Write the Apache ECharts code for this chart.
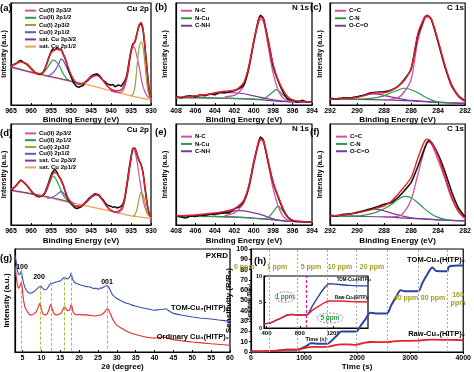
<!DOCTYPE html>
<html><head><meta charset="utf-8">
<script src="https://cdn.jsdelivr.net/npm/echarts@6/dist/echarts.min.js"></script>
<style>html,body{margin:0;padding:0;background:#fff}#c{width:474px;height:372px}</style>
</head><body><div id="c"></div>
<script>
// ---------- Panel (a) Cu 2p, TOM ----------
const a_bg = [[965,37],[958,30],[951,24],[945,19],[938,12],[935,9],[932,6.5],[930,5.5]];
const a_sat12 = [[965,37.5],[964,39.5],[963,41.5],[962.5,42],[962,41.5],[961,39],[960,35],[959,32],[958,30.5],[957,29.5]];
const a_sat32 = [[965,37.4],[958,30.4],[951,24.4],[949,22],[948,21.2],[947,21.5],[946,23],[945,26.5],[944,28.5],[943.5,29],[943,28],[942,24],[941,19],[940,15],[939,13],[938,12]];
const a_cu2_32 = [[940,13.5],[938,12],[937,14],[936,26],[935,50],[934.5,57],[934,55],[933,38],[932,18],[931,9],[930,6]];
const a_cu1_32 = [[935,9],[934.5,10.5],[934,18],[933.5,38],[933,55],[932.5,62],[932,57],[931.5,40],[931,20],[930.5,9.5],[930,6]];
const a_cu2_12 = [[959,31.5],[958,31],[957,31.5],[956,36],[955,42],[954.5,44],[954,43.5],[953,39],[952,31],[951,25.5],[950,23.5]];
const a_cu1_12 = [[956,28.5],[955,30],[954,34],[953,41],[952.5,45],[952,44],[951,36],[950,28],[949,23],[948,21.5]];
const a_data = [[965,38],[964.5,39],[964,40.5],[963.5,41],[963,43],[962.5,43.5],[962,42],[961.5,41],[961,40],[960,36],[959,32],[958.5,31],[958,30],[957.5,30.5],[957,32],[956.5,36],[956,41],[955.5,47],[955,52],[954.5,55],[954,54],[953.5,56],[953,54],[952.5,55],[952,50],[951.5,46],[951,40],[950.5,33],[950,28],[949.5,23],[949,20],[948.5,18],[948,17.5],[947.5,18.5],[947,19],[946.5,22],[946,24],[945.5,26],[945,28],[944.5,29.5],[944,30],[943.5,30.5],[943,29],[942.5,27],[942,24],[941.5,23],[941,21],[940.5,20],[940,19.5],[939.5,20],[939,18],[938.5,19],[938,19.5],[937.5,18.5],[937,21],[936.5,24],[936,30],[935.5,42],[935,53],[934.5,60],[934,62],[933.5,70],[933,78],[932.5,80],[932,74],[931.5,56],[931,35],[930.5,16],[930,7]];
const a_fit = [[965,38],[964,40],[963,42],[962,42],[961,40],[960,36],[959,32],[958,30.5],[957,32],[956,41],[955,51],[954,54],[953,55],[952.5,54],[952,51],[951,40],[950,30],[949,23],[948,20],[947,21],[946,24],[945,27.5],[944,29],[943,28],[942,24],[941,19],[940,15.5],[939,14],[938,14],[937,17],[936,29],[935,53],[934,63],[933.5,70],[933,78],[932.5,81],[932,75],[931.5,57],[931,36],[930.5,16],[930,7]];

// ---------- Panel (d) Cu 2p, ordinary ----------
const d_bg = [[965,34],[958,29],[951,23],[945,18],[938,12],[935,9],[932,7.5],[930,6.5]];
const d_sat12 = [[965,35],[964,38],[963,42],[962.5,44],[962,43],[961,39],[960,34],[959,30],[958,28.5],[957,28]];
const d_sat32 = [[965,34.5],[958,29.5],[951,23.5],[949,19],[948,18.5],[947,19.5],[946,23],[945,27],[944,29.5],[943.5,30],[943,29],[942,24],[941,18],[940,14],[939,12.5],[938,12]];
const d_cu2_32 = [[939,12.5],[938,12.8],[937,17],[936,38],[935,64],[934.5,74.5],[934,72],[933.5,63],[933,50],[932.5,37],[932,25],[931,12],[930,7.5]];
const d_cu1_32 = [[934.5,8.8],[934,10],[933.5,16],[933,25],[932.5,32],[932,30],[931.5,22],[931,13],[930.5,9],[930,7]];
const d_cu2_12 = [[959,29.5],[958,28.5],[957,29],[956,35],[955,45],[954.5,48],[954,47],[953,39],[952,30],[951,24.5],[950,22]];
const d_cu1_12 = [[956,26.5],[955,27],[954,29],[953,32],[952.5,33],[952,32],[951,27],[950,23],[949,21]];
const d_data = [[965,34],[964.5,36],[964,38],[963.5,40],[963,42.5],[962.5,44.5],[962,43],[961.5,41],[961,39],[960.5,36.5],[960,34],[959.5,31.5],[959,30],[958.5,28.5],[958,28],[957.5,28.5],[957,29.5],[956.5,32],[956,37],[955.5,43],[955,49],[954.5,53],[954,55],[953.5,52],[953,48],[952.5,45],[952,40],[951.5,34],[951,28],[950.5,24],[950,21],[949.5,19],[949,17],[948.5,16.5],[948,17],[947.5,18],[947,20],[946.5,22],[946,24],[945.5,26.5],[945,28],[944.5,29.5],[944,31],[943.5,30.5],[943,29.5],[942.5,27],[942,25],[941.5,22],[941,20],[940.5,19],[940,18.5],[939.5,17.5],[939,18],[938.5,17],[938,17.5],[937.5,18.5],[937,21],[936.5,28],[936,41],[935.5,55],[935,67],[934.5,76],[934,76],[933.5,70],[933,64],[932.5,60],[932,52],[931.5,37],[931,22],[930.5,12],[930,8]];
const d_fit = [[965,35],[964,38],[963,42],[962.5,44],[962,43],[961,39.5],[960,34],[959,30],[958,28.5],[957,29.5],[956,37],[955,47],[954.5,51],[954,52],[953,48],[952,40],[951,29],[950,22],[949,19],[948,18.5],[947,20],[946,23.5],[945,27.5],[944,30],[943.5,30],[943,29],[942,24],[941,18],[940,14.5],[939,13],[938,14],[937,19],[936,41],[935,66],[934.5,76],[934,75],[933.5,70],[933,64],[932.5,60],[932,51],[931.5,36],[931,22],[930.5,12.5],[930,8]];

// ---------- Panel (b) N 1s, TOM ----------
const b_bg = [[408,7.5],[404,6.8],[401,6],[399,5],[398,4],[396,3],[394,2.5]];
const b_cnh = [[408,7.5],[406.5,8],[405,9.5],[404,11],[403,12.2],[402,12],[401,11],[400,9],[399,7],[398,5],[397,3.8],[396,3],[394,2.5]];
const b_ncu = [[408,7],[404,6.8],[401,6.3],[399.5,5.5],[399,6],[398.5,9],[398,13],[397.7,15],[397.5,14.5],[397,10],[396.5,6],[396,4],[395,3.2],[394,2.5]];
const b_nc = [[403,8],[402,9.5],[401.5,12.5],[401,19],[400.5,35],[400,60],[399.5,81],[399.3,84],[399,82],[398.5,57],[398,31],[397.5,15],[397,7],[396.5,4.5],[396,3.5]];
const b_fit = [[408,7.5],[407,8],[406,9],[405,10],[404,12],[403,13.5],[402,14.5],[401.5,17],[401,22.5],[400.5,38],[400,62],[399.5,83],[399.3,86],[399,84],[398.5,62],[398,40],[397.7,30],[397.5,25],[397,15],[396.5,8],[396,5],[395,3.5],[394,2.7]];
const b_data = [[408,8],[407.5,7],[407,8.5],[406.5,9],[406,8],[405.5,10],[405,9],[404.5,11],[404,10],[403.5,12.5],[403,12],[402.5,13],[402,14],[401.5,16],[401,20],[400.5,37],[400,62],[399.5,84],[399.3,88],[399,85],[398.5,63],[398,38],[397.5,24],[397,13],[396.5,6],[396,5],[395.5,3],[395,4.5],[394.5,3],[394,3.5]];

// ---------- Panel (e) N 1s, ordinary ----------
const e_bg = [[408,9],[404,8.5],[401,7.5],[399,6],[398,5],[396,3.5],[394,2.7]];
const e_cnh = [[408,9],[406,9.5],[404,11.5],[403,13],[402,14],[401.5,14.2],[401,14],[400,12],[399,9.5],[398,6],[397,4],[396,3.5],[394,2.7]];
const e_ncu = [[408,8.8],[404,8.3],[401,7.3],[399,6],[398.5,7.5],[398,13],[397.5,18.5],[397,14],[396.5,7.5],[396,4.5],[395,3.2],[394,2.7]];
const e_nc = [[403,9],[402,12],[401.5,15.8],[401,22],[400.5,36],[400,59],[399.5,80],[399.3,84],[399,82],[398.5,60],[398,36],[397.5,19],[397,9],[396.5,5],[396,3.8]];
const e_fit = [[408,9],[407,9.5],[406,10],[405,11],[404,12],[403,13.5],[402,16],[401.5,19.5],[401,25],[400.5,39],[400,62],[399.5,82],[399.3,85],[399,83.5],[398.5,63],[398,42],[397.5,29],[397,17],[396.5,8],[396,4.8],[395,3.3],[394,2.8]];
const e_data = [[408,9],[407.5,8],[407,7],[406.5,9],[406,8.5],[405.5,10],[405,9.5],[404.5,11],[404,10.5],[403.5,11.5],[403,12],[402.5,12],[402,16],[401.5,18],[401,24],[400.5,38],[400,62],[399.5,82],[399.3,87],[399,84],[398.5,62],[398,42],[397.5,28],[397,16],[396.5,8],[396,4.5],[395.5,3.5],[395,3.5],[394.5,3],[394,3]];

// ---------- Panel (c) C 1s, TOM ----------
const c_bg = [[292,6],[290,5.5],[288,5],[286,4],[284,2.5],[282,1.5]];
const c_oco = [[292,6],[291,6.5],[290,8],[289.5,9.5],[289,10.8],[288.7,11],[288.3,10.5],[288,9.5],[287.5,8],[287,6.5],[286.5,5.5],[286,4.5],[285,3.5],[284,2.6],[282,1.6]];
const c_cn = [[292,6.1],[290,5.7],[289,6.5],[288,9],[287.5,12],[287,14.5],[286.5,16.4],[286,15],[285.5,12],[285,8],[284.5,5],[284,3],[283,2.2]];
const c_cc = [[288,5],[287,7],[286.5,13],[286,25],[285.5,63],[285,84],[284.8,86.5],[284.5,83],[284,61],[283.5,37],[283,18.5],[282.5,8],[282,3]];
const c_fit = [[292,6],[291,6.5],[290,7.5],[289.5,9],[289,11],[288.5,12],[288,12],[287.5,14],[287,18],[286.5,24],[286,36],[285.5,70],[285,86],[284.8,87.5],[284.5,84],[284,63],[283.5,39],[283,20],[282.5,9],[282,4]];
const c_data = [[292,6.5],[291.5,6],[291,7],[290.5,7],[290,8],[289.5,9.5],[289,12],[288.5,12.5],[288,13],[287.5,14.5],[287,18],[286.5,25],[286,35],[285.5,68],[285,86],[284.8,88],[284.5,84],[284,62],[283.5,38],[283,19],[282.5,9],[282,4]];

// ---------- Panel (f) C 1s, ordinary ----------
const f_bg = [[292,9],[290,8.5],[288,8],[286,6.5],[284,5],[282,4]];
const f_oco = [[292,9],[291,10],[290,12],[289.5,14],[289,15.5],[288.7,15.8],[288.3,15.3],[288,14],[287.5,12],[287,10],[286.5,8.5],[286,7.2],[285,6],[284,5.1],[282,4.1]];
const f_cn = [[292,9.1],[290,9],[289,11],[288.5,13],[288,16],[287.5,20],[287,25],[286.5,28.4],[286,27],[285.5,22],[285,16],[284.5,11],[284,7.5],[283.5,5.5],[283,4.7]];
const f_cc = [[288,8],[287,8.5],[286.5,13],[286,25],[285.5,50],[285,75],[284.8,82],[284.5,80],[284,64],[283.5,46],[283,26],[282.5,13],[282,6]];
const f_fit = [[292,9],[291,10],[290,12],[289,15],[288.5,17],[288,19],[287.5,23],[287,30],[286.5,38],[286,47],[285.5,66],[285,83],[284.8,85],[284.5,82],[284,68],[283.5,48],[283,28],[282.5,14],[282,7]];
const f_data = [[292,9.5],[291.5,9],[291,10.5],[290.5,11],[290,12.5],[289.5,14],[289,16],[288.5,18],[288,20.5],[287.5,22],[287,27],[286.5,34],[286,42],[285.5,58],[285,76],[284.7,83.5],[284.5,82],[284,70],[283.5,53],[283,33],[282.5,17],[282,8]];

// ---------- Panel (g) PXRD ----------
const g_ticks = [5,10,15,20,25,30,35,40,45,50,55,60];
const g_peaks = [4.7,9.6,12.5,16.1,17.9,27.5];
const g_tom = [[3,94],[3.3,88],[3.6,80],[3.9,76],[4.2,75],[4.5,77],[4.7,79],[4.9,74],[5.2,68],[5.6,63],[6,60],[6.5,58],[7,57],[7.5,57.5],[8,58.5],[8.5,60],[9,62],[9.5,63.5],[9.8,64],[10.2,62.5],[10.8,60.5],[11.3,60.5],[11.8,63],[12.3,66],[12.6,67],[13,66.5],[13.5,67.5],[14,68],[14.5,68.5],[15,69],[15.5,70.5],[16,72.5],[16.3,72],[16.8,71],[17.3,72],[17.7,74],[17.9,77],[18.1,73],[18.5,69],[19,67],[19.5,66.5],[20,65.5],[21,64.5],[22,63.5],[23,63],[24,61.5],[24.5,62],[25,61],[25.5,62],[26,62],[26.5,63],[27,64],[27.5,64.5],[28,62],[28.5,58],[29,55],[30,52],[31,50],[32,48],[33,47],[34,45.5],[35,44.5],[36,43.5],[38,42],[40,40.5],[41,41],[42,41.5],[43,42],[44,39.5],[45,37.5],[47,36],[50,34],[52,33],[55,32],[57,31],[60,30]];
const g_ord = [[3,84],[3.3,74],[3.6,66],[3.9,62],[4.2,63],[4.5,66],[4.7,68],[4.9,63],[5.2,52],[5.6,44],[6,41],[6.5,38],[7,36],[7.5,36],[8,37],[8.5,38.5],[9,42],[9.4,46],[9.6,47],[9.9,43],[10.4,37],[11,36],[11.5,37],[12,41],[12.4,46],[12.7,44],[13.2,38],[13.8,36],[14.5,36.5],[15.2,37.5],[15.8,42],[16.1,44],[16.5,42],[17,40],[17.5,41],[17.8,45],[18,46],[18.3,40],[18.8,37],[19.5,36],[20,36.5],[21,36],[22,36],[23,35.5],[24,35],[25,35.5],[26,36.5],[26.8,39],[27.4,42],[27.8,41],[28.3,37],[29,31],[30,26],[31,23.5],[32,21.5],[33,19.5],[35,17],[37,15],[40,13.5],[42,14.6],[43,14],[45,12],[48,10.5],[50,9.7],[55,8],[60,6.5]];

// ---------- Panel (h) sensing ----------
const h_switch = [350,880,1440,1980,2560,3150,3700];
const h_tom = [[0,0.5],[200,0.6],[350,0.8],[450,1.0],[550,1.5],[650,2.2],[700,2.3],[800,2.2],[880,2.2],[950,3.5],[1050,6],[1130,8.5],[1200,8.3],[1300,8.1],[1440,8],[1520,11],[1620,16],[1700,20],[1800,19.8],[1980,19.8],[2060,25],[2160,32],[2250,38],[2350,37.5],[2560,37.5],[2640,45],[2740,54],[2820,60],[2900,59],[3150,59],[3230,67],[3330,76],[3420,82],[3480,79],[3550,78.5],[3700,78.5],[3720,82],[3760,83.5],[3900,84],[4000,84]];
const h_raw = [[0,0.5],[200,0.6],[350,0.8],[450,1.0],[550,1.5],[650,2.2],[880,2.3],[950,3.2],[1050,4.3],[1150,5],[1300,5],[1440,5],[1550,6.3],[1700,7.5],[1850,7.3],[1980,7],[2100,8.5],[2250,9.7],[2560,9.5],[2680,10.3],[2820,10.8],[3150,11],[3300,11.7],[3420,12],[3700,11.8],[3800,11.7],[4000,11.6]];
const in_ticks = [400,800,1200];
const in_switch = [880];
const in_tom = [[370,0.8],[450,1.0],[520,1.5],[600,2.1],[650,2.5],[700,2.6],[800,2.5],[880,2.5],[950,4.2],[1020,6.0],[1100,7.8],[1160,8.5],[1250,8.4],[1400,8.2],[1620,8.1]];
const in_raw = [[370,0.8],[450,1.0],[520,1.5],[600,2.1],[650,2.5],[700,2.6],[800,2.5],[880,2.5],[950,3.4],[1050,4.4],[1150,5.2],[1250,5.2],[1400,5.1],[1620,5.0]];

// ---------- styling ----------
const FF = '"Liberation Sans", Arial, sans-serif';
const C = {pink:'#d24fa6', green:'#2f9a45', olive:'#9da33a', violet:'#6a55cc', purple:'#7a3a9c', orange:'#f2a24e', red:'#e8212a', black:'#111', blue:'#2d43a0'};
const cuNames = ['Cu(II) 2p3/2','Cu(II) 2p1/2','Cu(I) 2p3/2','Cu(I) 2p1/2','sat. Cu 2p3/2','sat. Cu 2p1/2'];
const nNames = ['N-C','N-Cu','C-NH'];
const cNames = ['C=C','C-N','O-C=O'];
const plain = v => String(v);

function ln(name, data, gi, color, w, z, smooth, extra) {
  return Object.assign({type:'line', name, data, xAxisIndex:gi, yAxisIndex:gi, smooth:smooth, symbol:'none',
    lineStyle:{color, width:w}, itemStyle:{color}, z, silent:true}, extra||{});
}
const grids = [
  {left:11, top:3, width:140, height:102},
  {left:176, top:3, width:136, height:102},
  {left:330, top:3, width:137, height:102},
  {left:11, top:124, width:140, height:101},
  {left:176, top:124, width:136, height:101},
  {left:330, top:124, width:137, height:101},
  {left:15, top:249, width:215, height:103},
  {left:251, top:249, width:215, height:103},
  {left:264, top:276, width:104, height:52}
].map(g => Object.assign({show:true, borderColor:'#000', borderWidth:1.2, backgroundColor:'transparent'}, g));

const lab = {fontSize:7, fontWeight:'bold', color:'#000', fontFamily:FF, formatter:plain};
const nameTS = (s) => ({fontSize:s, fontWeight:'bold', color:'#000', fontFamily:FF});
function xpsX(gi, min, max, iv, gap) {
  return {gridIndex:gi, type:'value', min, max, interval:iv, inverse:true,
    axisLine:{show:true, lineStyle:{color:'#000', width:1.2}}, axisTick:{inside:true, length:2, lineStyle:{color:'#000'}},
    axisLabel:Object.assign({margin:3}, lab), splitLine:{show:false},
    name:'Binding Energy (eV)', nameLocation:'middle', nameGap:gap, nameTextStyle:nameTS(8)};
}
function xpsY(gi, gap) {
  return {gridIndex:gi, type:'value', min:0, max:100, axisLabel:{show:false}, axisTick:{show:false}, splitLine:{show:false},
    axisLine:{show:true, lineStyle:{color:'#000', width:1.2}},
    name:'Intensity (a.u.)', nameLocation:'middle', nameGap:gap, nameTextStyle:nameTS(7)};
}
const xAxis = [
  xpsX(0,930,965,5,11), xpsX(1,394,408,2,11), xpsX(2,282,292,2,11),
  xpsX(3,930,965,5,12), xpsX(4,394,408,2,12), xpsX(5,282,292,2,12),
  {gridIndex:6, type:'value', min:3, max:60, axisLine:{lineStyle:{color:'#000', width:1.2}},
    axisTick:{inside:true, length:2, customValues:g_ticks, lineStyle:{color:'#000'}},
    axisLabel:Object.assign({margin:3, customValues:g_ticks}, lab), splitLine:{show:false},
    name:'2θ (degree)', nameLocation:'middle', nameGap:10, nameTextStyle:nameTS(8)},
  {gridIndex:7, type:'value', min:0, max:4000, interval:1000, axisLine:{lineStyle:{color:'#000', width:1.2}},
    axisTick:{length:2, lineStyle:{color:'#000'}}, axisLabel:Object.assign({margin:3}, lab), splitLine:{show:false},
    name:'Time (s)', nameLocation:'middle', nameGap:10, nameTextStyle:nameTS(8)},
  {gridIndex:8, type:'value', min:370, max:1620, axisLine:{lineStyle:{color:'#000', width:1}},
    axisTick:{inside:true, length:2, customValues:in_ticks, lineStyle:{color:'#000'}},
    axisLabel:{margin:2, customValues:in_ticks, formatter:plain, fontSize:6, fontWeight:'bold', color:'#000', fontFamily:FF}, splitLine:{show:false},
    name:'Time (s)', nameLocation:'middle', nameGap:7, nameTextStyle:nameTS(5.5)}
];
const yAxis = [
  xpsY(0,3), xpsY(1,7), xpsY(2,6), xpsY(3,3), xpsY(4,7), xpsY(5,6),
  {gridIndex:6, type:'value', min:0, max:100, axisLabel:{show:false}, axisTick:{show:false}, splitLine:{show:false},
    axisLine:{show:true, lineStyle:{color:'#000', width:1.2}},
    name:'Intensity (a.u.)', nameLocation:'middle', nameGap:4, nameTextStyle:nameTS(8)},
  {gridIndex:7, type:'value', min:0, max:100, interval:10, axisLine:{show:true, lineStyle:{color:'#000', width:1.2}},
    axisTick:{length:2, lineStyle:{color:'#000'}}, axisLabel:Object.assign({margin:3}, lab), splitLine:{show:false},
    name:'Sensitivity (R/R₀)', nameLocation:'middle', nameGap:11, nameTextStyle:nameTS(8)},
  {gridIndex:8, type:'value', min:0, max:10, interval:5, axisLine:{show:true, lineStyle:{color:'#000', width:1}},
    axisTick:{inside:true, length:2, lineStyle:{color:'#000'}}, axisLabel:{margin:2, fontSize:5.5, fontWeight:'bold', color:'#000', fontFamily:FF}, splitLine:{show:false},
    name:'Sensitivity (R/R₀)', nameLocation:'middle', nameGap:8, nameTextStyle:nameTS(4.5)}
];

function cuSeries(gi, bg, c232, c212, c132, c112, s32, s12, data, fit) {
  return [
    ln('bg', bg, gi, C.orange, 1.3, 2, 0.2),
    ln(cuNames[5], s12, gi, C.orange, 1.3, 3, 0.35),
    ln(cuNames[4], s32, gi, C.purple, 1.2, 3, 0.35),
    ln(cuNames[1], c212, gi, C.green, 1.2, 3, 0.35),
    ln(cuNames[3], c112, gi, C.violet, 1.2, 3, 0.35),
    ln(cuNames[0], c232, gi, C.pink, 1.2, 3, 0.35),
    ln(cuNames[2], c132, gi, C.olive, 1.2, 3, 0.35),
    ln('data', data, gi, C.black, 1.6, 4, 0.15),
    ln('fit', fit, gi, C.red, 1.4, 5, 0.35)
  ];
}
function threeSeries(gi, names, bg, p1, p2, p3, data, fit) {
  return [
    ln('bg', bg, gi, C.purple, 1.2, 2, 0.2),
    ln(names[2], p3, gi, C.purple, 1.2, 3, 0.35),
    ln(names[1], p2, gi, C.green, 1.2, 3, 0.35),
    ln(names[0], p1, gi, C.pink, 1.3, 3, 0.35),
    ln('data', data, gi, C.black, 1.6, 4, 0.15),
    ln('fit', fit, gi, C.red, 1.4, 5, 0.35)
  ];
}
function nearestY(arr, x) {
  let best = arr[0];
  arr.forEach(p => { if (Math.abs(p[0]-x) < Math.abs(best[0]-x)) best = p; });
  return best[1];
}
const series = [].concat(
  cuSeries(0, a_bg, a_cu2_32, a_cu2_12, a_cu1_32, a_cu1_12, a_sat32, a_sat12, a_data, a_fit),
  threeSeries(1, nNames, b_bg, b_nc, b_ncu, b_cnh, b_data, b_fit),
  threeSeries(2, cNames, c_bg, c_cc, c_cn, c_oco, c_data, c_fit),
  cuSeries(3, d_bg, d_cu2_32, d_cu2_12, d_cu1_32, d_cu1_12, d_sat32, d_sat12, d_data, d_fit),
  threeSeries(4, nNames, e_bg, e_nc, e_ncu, e_cnh, e_data, e_fit),
  threeSeries(5, cNames, f_bg, f_cc, f_cn, f_oco, f_data, f_fit),
  [
    ln('PXRD TOM', g_tom, 6, '#3550b0', 1.1, 3, 0.1),
    ln('PXRD ordinary', g_ord, 6, '#e42a2a', 1.1, 3, 0.1, {
      markLine:{symbol:'none', silent:true, label:{show:false}, lineStyle:{color:'#b8b440', type:[3,2], width:1},
        data:g_peaks.map(p => [{coord:[p, nearestY(g_tom, p)]}, {coord:[p, 0]}])}
    }),
    ln('Raw main', h_raw, 7, C.red, 1.8, 4, 0.3, {
      markLine:{symbol:'none', silent:true, label:{show:false}, lineStyle:{color:'#a8a8a8', type:[2,2], width:1},
        data:h_switch.map(t => ({xAxis:t}))}
    }),
    ln('TOM main', h_tom, 7, C.blue, 2, 3, 0.3),
    ln('TOM inset', in_tom, 8, C.blue, 1.4, 6, 0.3),
    ln('Raw inset', in_raw, 8, C.red, 1.4, 7, 0.3, {
      markLine:{symbol:'none', silent:true, label:{show:false}, lineStyle:{color:'#e0208a', type:[3,2], width:1.3},
        data:in_switch.map(t => ({xAxis:t}))}
    })
  ]
);

function legend(left, top, names, lh) {
  return {orient:'vertical', left, top, itemWidth:11, itemHeight:2, itemGap:0, icon:'rect', selectedMode:false,
    data:names, textStyle:{fontSize:6, fontWeight:'bold', color:'#000', fontFamily:FF, lineHeight:lh, padding:[0,0,0,-2]}};
}
const legends = [
  legend(20, 2, cuNames, 7.2), legend(176, 2, nNames, 7.5), legend(330, 2, cNames, 7.5),
  legend(20, 125, cuNames, 6.8), legend(176, 128, nNames, 7.3), legend(331, 128, cNames, 7.3)
];

function T(text, x, y, size, align, color) {
  return {type:'text', x, y, z:50, silent:true, style:{text, font:'bold '+size+'px '+FF, fill:color||'#000', align:align||'left', verticalAlign:'middle'}};
}
const ppm = '#a39c2a';
const graphic = [
  T('(a)', 0, 8, 9.5), T('(b)', 155, 7, 9.5), T('(c)', 310, 7, 9.5),
  T('(d)', 0, 133, 9.5), T('(e)', 155, 132, 9.5), T('(f)', 310, 132, 9.5),
  T('(g)', 0, 258, 9.5), T('(h)', 254, 261, 9.5),
  T('Cu 2p', 149, 9, 8, 'right'), T('N 1s', 309, 8, 8, 'right'), T('C 1s', 464, 8, 8, 'right'),
  T('Cu 2p', 149, 130, 8, 'right'), T('N 1s', 309, 129, 8, 'right'), T('C 1s', 464, 129, 8, 'right'),
  T('PXRD', 228, 256, 8, 'right'),
  T('100', 22, 267, 7, 'center'), T('200', 39, 277, 7, 'center'), T('001', 107, 282, 7, 'center'),
  T('TOM-Cu₃(HITP)₂', 229, 308, 7.5, 'right'), T('Ordinary Cu₃(HITP)₂', 229, 337, 7.5, 'right'),
  T('TOM-Cu₃(HITP)₂', 465, 260, 7.5, 'right'), T('Raw-Cu₃(HITP)₂', 465, 334, 7.5, 'right'),
  T('0 ppm', 234, 267, 7, 'left', ppm), T('1 ppm', 277, 267, 7, 'center', ppm), T('5 ppm', 311, 267, 7, 'center', ppm),
  T('10 ppm', 340, 267, 7, 'center', ppm), T('20 ppm', 372, 267, 7, 'center', ppm),
  T('40 ppm', 406, 298, 7, 'center', ppm), T('80 ppm', 433, 298, 7, 'center', ppm),
  T('160', 458, 295, 7, 'center', ppm), T('ppm', 458, 303, 7, 'center', ppm),
  T('TOM-Cu₃(HITP)₂', 354, 280, 4.5, 'center'), T('Raw-Cu₃(HITP)₂', 352, 298, 4.5, 'center'),
  {type:'ellipse', z:50, silent:true, shape:{cx:285, cy:297, rx:10, ry:5.3}, style:{fill:'none', stroke:'#b679c4', lineWidth:1, lineDash:[2,1.5]}},
  {type:'ellipse', z:50, silent:true, shape:{cx:330, cy:318, rx:13, ry:5}, style:{fill:'none', stroke:'#b679c4', lineWidth:1, lineDash:[2,1.5]}},
  T('1 ppm', 285, 297, 6.5, 'center', '#2a9a3a'), T('5 ppm', 330, 318, 6.5, 'center', '#2a9a3a')
];

const chart = echarts.init(document.getElementById('c'), null, {renderer:'canvas'});
chart.setOption({animation:false, backgroundColor:'#fff', textStyle:{fontFamily:FF},
  grid:grids, xAxis, yAxis, series, legend:legends, graphic});
</script></body></html>
